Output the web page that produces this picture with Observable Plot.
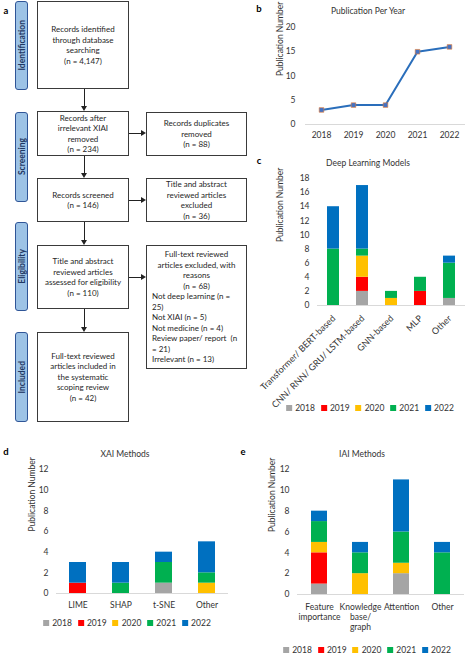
<!DOCTYPE html>
<html><head><meta charset="utf-8">
<script src="https://cdn.jsdelivr.net/npm/d3@7"></script>
<script src="https://cdn.jsdelivr.net/npm/@observablehq/plot@0.6"></script>
<style>
html,body{margin:0;padding:0;background:#fff;}
#page{position:relative;width:474px;height:655px;overflow:hidden;font-family:Lato,"Liberation Sans",sans-serif;color:#262626;}
.box{position:absolute;box-sizing:border-box;border:1px solid #3a3a3a;background:#fff;display:flex;flex-direction:column;justify-content:center;align-items:center;text-align:center;font-size:8px;line-height:10.5px;color:#262626;}
.box.top{justify-content:flex-start;padding-top:3px;}
.box .left{align-self:stretch;text-align:left;padding-left:5px;}
.tab{position:absolute;box-sizing:border-box;border:1px solid #2f5597;background:#9dc3e6;border-radius:3px;display:flex;align-items:center;justify-content:center;}
.tab span{writing-mode:vertical-rl;transform:rotate(180deg);font-weight:bold;font-size:8.5px;color:#1f3864;white-space:nowrap;}
.lbl{position:absolute;font-weight:bold;font-size:9.5px;color:#000;transform:translate(-50%,-50%);}
.title{position:absolute;font-size:8.5px;color:#333;transform:translate(-50%,-50%);white-space:nowrap;}
.legend{position:absolute;display:flex;gap:6px;font-size:8.5px;color:#333;transform:translate(-50%,-50%);white-space:nowrap;align-items:center;}
.legend span{display:flex;align-items:center;}
.legend i{display:inline-block;width:6px;height:6px;margin-right:3px;}
.line{position:absolute;background:#222;}
.plot{position:absolute;overflow:visible;}
</style></head><body><div id="page"></div>
<script>
// ---------- data ----------
const years = ["2018", "2019", "2020", "2021", "2022"];
const yearColors = ["#a5a5a5", "#ff0000", "#ffc000", "#00b050", "#0070c0"];

const pubPerYear = [3, 4, 4, 15, 16];
const pubTicks = [0, 5, 10, 15, 20];

const dlModels = ["Transformer/ BERT-based", "CNN/ RNN/ GRU/ LSTM-based", "GNN-based", "MLP", "Other"];
const dl2018 = [0, 2, 0, 0, 1];
const dl2019 = [0, 2, 0, 2, 0];
const dl2020 = [0, 3, 1, 0, 0];
const dl2021 = [8, 1, 1, 2, 5];
const dl2022 = [6, 9, 0, 0, 1];
const dlTicks = [0, 2, 4, 6, 8, 10, 12, 14, 16, 18];

const xaiMethods = ["LIME", "SHAP", "t-SNE", "Other"];
const xai2018 = [0, 0, 1, 0];
const xai2019 = [1, 0, 0, 0];
const xai2020 = [0, 0, 0, 1];
const xai2021 = [0, 1, 2, 1];
const xai2022 = [2, 2, 1, 3];
const methodTicks = [0, 2, 4, 6, 8, 10, 12];

const iaiMethods = ["Feature importance", "Knowledge base/ graph", "Attention", "Other"];
const iaiTickLabels = ["Feature\nimportance", "Knowledge\nbase/\ngraph", "Attention", "Other"];
const iai2018 = [1, 0, 2, 0];
const iai2019 = [3, 0, 0, 0];
const iai2020 = [1, 2, 1, 0];
const iai2021 = [2, 2, 3, 4];
const iai2022 = [1, 1, 5, 1];

const phaseTabs = ["Identification", "Screening", "Eligibility", "Included"];
const flowMain = [
  "Records identified<br>through database<br>searching<br>(n = 4,147)",
  "Records after<br>irrelevant XIAI<br>removed<br>(n = 234)",
  "Records screened<br>(n = 146)",
  "Title and abstract<br>reviewed articles<br>assessed for eligibility<br>(n = 110)",
  "Full-text reviewed<br>articles included in<br>the systematic<br>scoping review<br>(n = 42)"
];
const flowSide = [
  "Records duplicates<br>removed<br>(n = 88)",
  "Title and abstract<br>reviewed articles<br>excluded<br>(n = 36)"
];
const fullTextHead = "Full-text reviewed<br>articles excluded, with<br>reasons<br>(n = 68)";
const fullTextReasons = [
  "Not deep learning (n =<br>25)",
  "Not XIAI (n = 5)",
  "Not medicine (n = 4)",
  "Review paper/ report&nbsp; (n<br>= 21)",
  "Irrelevant (n = 13)"
];

// ---------- helpers ----------
const page = document.getElementById("page");
function add(html, cls, css) {
  const d = document.createElement("div");
  d.className = cls;
  d.innerHTML = html;
  Object.assign(d.style, css);
  page.appendChild(d);
  return d;
}
function px(v) { return v + "px"; }
function box(html, l, t, w, h, cls = "box") {
  return add(html, cls, {left: px(l), top: px(t), width: px(w), height: px(h)});
}
function tab(text, t, h) {
  add(`<span>${text}</span>`, "tab", {left: "15px", top: px(t), width: "13px", height: px(h)});
}
function arrowV(x, y1, y2) {
  add("", "line", {left: px(x - 0.5), top: px(y1), width: "1px", height: px(y2 - y1 - 4)});
  add("", "", {position: "absolute", left: px(x - 3), top: px(y2 - 5), width: 0, height: 0,
    borderLeft: "3px solid transparent", borderRight: "3px solid transparent", borderTop: "5px solid #222"});
}
function arrowH(y, x1, x2) {
  add("", "line", {left: px(x1), top: px(y - 0.5), width: px(x2 - x1 - 4), height: "1px"});
  add("", "", {position: "absolute", left: px(x2 - 5), top: px(y - 3), width: 0, height: 0,
    borderTop: "3px solid transparent", borderBottom: "3px solid transparent", borderLeft: "5px solid #222"});
}
function centerText(text, cls, cx, cy) {
  add(text, cls, {left: px(cx), top: px(cy)});
}
function legend(cx, cy) {
  const html = years.map((y, i) => `<span><i style="background:${yearColors[i]}"></i>${y}</span>`).join("");
  add(html, "legend", {left: px(cx), top: px(cy)});
}
function tidy(cats, series) {
  const rows = [];
  series.forEach((vals, si) => vals.forEach((n, ci) => { if (n > 0) rows.push({cat: cats[ci], year: years[si], n}); }));
  return rows;
}
function placePlot(svg, l, t) {
  svg.classList.add("plot");
  svg.style.left = px(l);
  svg.style.top = px(t);
  page.appendChild(svg);
}
const FONT = "Lato, 'Liberation Sans', sans-serif";
const TXT = "#333";

function stackChart({cats, series, tickLabels, yTicks, width, height, mt, mb, ml, mr, ymax, tickPad, labelDx, rotate, xFont}) {
  const rows = tidy(cats, series);
  return Plot.plot({
    width, height, marginTop: mt, marginBottom: mb, marginLeft: ml, marginRight: mr,
    style: {fontFamily: FONT, fontSize: "8.5px", color: TXT, background: "transparent", overflow: "visible"},
    x: {domain: cats, paddingInner: 0.6, paddingOuter: 0.3},
    y: {domain: [0, ymax]},
    color: {domain: years, range: yearColors},
    marks: [
      Plot.barY(rows, {x: "cat", y: "n", fill: "year"}),
      Plot.ruleY([0], {stroke: "#d9d9d9", strokeWidth: 1}),
      Plot.axisY({ticks: yTicks, tickSize: 0, tickPadding: 8, label: null, fontSize: 8.5, fill: TXT}),
      Plot.axisX({tickSize: 0, tickPadding: tickPad, label: null, fontSize: xFont || 8.5, fill: TXT,
        tickRotate: rotate || 0, lineHeight: 1.2,
        tickFormat: d => tickLabels[cats.indexOf(d)]}),
      Plot.text(["Publication Number"], {frameAnchor: "left", rotate: -90, dx: labelDx, fontSize: 8.5, fill: TXT})
    ]
  });
}

// ---------- panel a: flow diagram ----------
centerText("a", "lbl", 6, 10);
tab(phaseTabs[0], 1, 89);
tab(phaseTabs[1], 112, 90);
tab(phaseTabs[2], 222, 89);
tab(phaseTabs[3], 332, 90);

box(flowMain[0], 37, 1, 92, 88);
box(flowMain[1], 37, 111, 92, 45);
box(flowMain[2], 37, 178, 92, 44);
box(flowMain[3], 37, 245, 92, 64);
box(flowMain[4], 37, 332, 92, 90);

box(flowSide[0], 146, 112, 101, 44);
box(flowSide[1], 146, 178, 101, 44);
box(`<div>${fullTextHead}</div>` + fullTextReasons.map(r => `<div class="left">${r}</div>`).join(""),
    146, 245, 101, 124, "box top");

arrowV(84, 89, 111);
arrowV(84, 156, 178);
arrowV(84, 222, 245);
arrowV(84, 309, 332);
arrowH(133, 129, 146);
arrowH(200, 129, 146);
arrowH(277, 129, 146);

// ---------- panel b: publication per year ----------
centerText("b", "lbl", 259, 8);
centerText("Publication Per Year", "title", 368, 11);
const perYear = years.map((y, i) => ({year: y, n: pubPerYear[i]}));
placePlot(Plot.plot({
  width: 224, height: 130, marginTop: 12, marginBottom: 21, marginLeft: 55, marginRight: 9,
  style: {fontFamily: FONT, fontSize: "8.5px", color: TXT, background: "transparent", overflow: "visible"},
  x: {type: "point", domain: years, padding: 0.5},
  y: {domain: [0, 20]},
  marks: [
    Plot.ruleY([0], {stroke: "#d9d9d9"}),
    Plot.line(perYear, {x: "year", y: "n", stroke: "#2a6ebb", strokeWidth: 2}),
    Plot.dot(perYear, {x: "year", y: "n", symbol: "square", r: 2.6, fill: "#4472c4", stroke: "#ed7d31", strokeWidth: 0.6}),
    Plot.axisX({tickSize: 0, tickPadding: 7, label: null, fontSize: 8.5, fill: TXT}),
    Plot.axisY({ticks: pubTicks, tickSize: 0, tickPadding: 10, label: null, fontSize: 8.5, fill: TXT}),
    Plot.text(["Publication Number"], {frameAnchor: "left", rotate: -90, dx: -25, fontSize: 8.5, fill: TXT})
  ]
}), 250, 15);

// ---------- panel c: deep learning models ----------
centerText("c", "lbl", 259, 160);
centerText("Deep Learning Models", "title", 368, 163);
placePlot(stackChart({
  cats: dlModels, series: [dl2018, dl2019, dl2020, dl2021, dl2022], tickLabels: dlModels, yTicks: dlTicks,
  width: 224, height: 225, mt: 8, mb: 90, ml: 67, mr: 9, ymax: 18, tickPad: 11, labelDx: -37, rotate: -45, xFont: 9
}), 250, 170);
legend(370, 408);

// ---------- panel d: XAI methods ----------
centerText("d", "lbl", 6, 451);
centerText("XAI Methods", "title", 125, 454);
placePlot(stackChart({
  cats: xaiMethods, series: [xai2018, xai2019, xai2020, xai2021, xai2022], tickLabels: xaiMethods, yTicks: methodTicks,
  width: 237, height: 160, mt: 9, mb: 27, ml: 56, mr: 9, ymax: 12, tickPad: 7, labelDx: -24
}), 0, 460);
legend(127, 623);

// ---------- panel e: IAI methods ----------
centerText("e", "lbl", 243, 451);
centerText("IAI Methods", "title", 362, 454);
placePlot(stackChart({
  cats: iaiMethods, series: [iai2018, iai2019, iai2020, iai2021, iai2022], tickLabels: iaiTickLabels, yTicks: methodTicks,
  width: 237, height: 180, mt: 9, mb: 46, ml: 60, mr: 10, ymax: 12, tickPad: 8, labelDx: -25
}), 237, 460);
legend(367, 650);
</script>
</body></html>
